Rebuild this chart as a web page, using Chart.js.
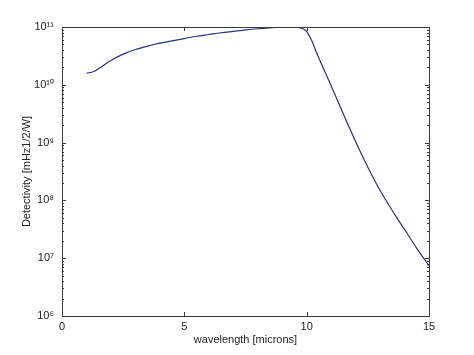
<!DOCTYPE html>
<html>
<head>
<meta charset="utf-8">
<script src="https://cdn.jsdelivr.net/npm/chart.js@4"></script>
<style>
html,body{margin:0;padding:0;background:#fff;}
#wrap{width:474px;height:355px;position:relative;}
</style>
</head>
<body>
<div id="wrap"><canvas id="c" width="474" height="355"></canvas></div>
<script>
// Data (wavelength in microns, log10 of detectivity)
const wavelength = [1.0, 1.3, 1.6, 2.0, 2.5, 3.0, 3.5, 4.0, 4.5, 5.0, 5.5, 6.0, 6.5, 7.0, 7.5, 8.0, 8.5, 9.0, 9.5, 9.7, 9.85, 10.0, 10.2, 10.41, 10.7, 10.95, 11.3, 11.63, 12.0, 12.4, 12.86, 13.27, 13.7, 14.09, 14.5, 14.9, 15.0];
const logDetectivity = [10.20, 10.23, 10.31, 10.42, 10.53, 10.61, 10.67, 10.72, 10.76, 10.80, 10.84, 10.87, 10.90, 10.925, 10.95, 10.97, 10.985, 10.997, 11.0, 10.99, 10.97, 10.92, 10.77, 10.55, 10.27, 10.03, 9.69, 9.37, 9.02, 8.66, 8.28, 7.98, 7.69, 7.44, 7.17, 6.93, 6.87];
const detectivity = logDetectivity.map(v => Math.pow(10, v));
const xTicks = [0, 5, 10, 15];
const yDecades = [6, 7, 8, 9, 10, 11];
const supDigits = {'0':'⁰','1':'¹','2':'²','3':'³','4':'⁴','5':'⁵','6':'⁶','7':'⁷','8':'⁸','9':'⁹'};

const points = wavelength.map((x, i) => ({x: x, y: detectivity[i]}));

const axisColor = '#3a3a3a';
const boxTicks = {
  id: 'boxTicks',
  afterDraw(chart) {
    const ctx = chart.ctx;
    const a = chart.chartArea;
    const xs = chart.scales.x, ys = chart.scales.y;
    ctx.save();
    ctx.strokeStyle = axisColor;
    ctx.lineWidth = 1;
    ctx.strokeRect(Math.round(a.left) + 0.5, Math.round(a.top) + 0.5, Math.round(a.right - a.left), Math.round(a.bottom - a.top));
    ctx.beginPath();
    xs.ticks.forEach(t => {
      const px = Math.round(xs.getPixelForValue(t.value)) + 0.5;
      ctx.moveTo(px, a.bottom); ctx.lineTo(px, a.bottom - 4);
      ctx.moveTo(px, a.top); ctx.lineTo(px, a.top + 4);
    });
    ys.ticks.forEach(t => {
      const py = Math.round(ys.getPixelForValue(t.value)) + 0.5;
      const major = Math.abs(Math.log10(t.value) - Math.round(Math.log10(t.value))) < 1e-9;
      const len = major ? 4 : 2;
      ctx.moveTo(a.left, py); ctx.lineTo(a.left + len, py);
      ctx.moveTo(a.right, py); ctx.lineTo(a.right - len, py);
    });
    ctx.stroke();
    ctx.restore();
  }
};

new Chart(document.getElementById('c'), {
  type: 'line',
  data: {
    datasets: [{
      data: points,
      borderColor: '#2b2f78',
      borderWidth: 1.2,
      pointRadius: 0,
      cubicInterpolationMode: 'monotone',
      fill: false
    }]
  },
  options: {
    responsive: false,
    animation: false,
    devicePixelRatio: 1,
    layout: {padding: {left: 0, top: 27, right: 45, bottom: 0}},
    plugins: {legend: {display: false}, tooltip: {enabled: false}},
    scales: {
      x: {
        type: 'linear',
        min: 0, max: 15,
        afterFit: s => { s.height = 39; },
        afterBuildTicks: s => { s.ticks = xTicks.map(v => ({value: v})); },
        grid: {display: false, drawTicks: false},
        border: {display: false},
        ticks: {color: '#222', font: {family: 'Liberation Sans', size: 11}, padding: 4, maxRotation: 0},
        title: {display: true, text: 'wavelength [microns]', color: '#222', font: {family: 'Liberation Sans', size: 11}, padding: {top: 0, bottom: 8}}
      },
      y: {
        type: 'logarithmic',
        min: 1e6, max: 1e11,
        afterFit: s => { s.width = 62; },
        afterBuildTicks: s => {
          const t = [];
          for (let d = yDecades[0]; d <= yDecades[yDecades.length - 1]; d++) {
            for (let m = 1; m <= 9; m++) {
              if (d === yDecades[yDecades.length - 1] && m > 1) break;
              t.push({value: m * Math.pow(10, d)});
            }
          }
          s.ticks = t;
        },
        grid: {display: false, drawTicks: false},
        border: {display: false},
        ticks: {
          autoSkip: false,
          color: '#222',
          font: {family: 'Liberation Sans', size: 11},
          padding: 8,
          callback: function(v) {
            const l = Math.log10(v);
            if (Math.abs(l - Math.round(l)) > 1e-9) return '';
            const e = String(Math.round(l));
            return '10' + e.split('').map(c => supDigits[c]).join('');
          }
        },
        title: {display: true, text: 'Detectivity [mHz1/2/W]', color: '#222', font: {family: 'Liberation Sans', size: 11}, padding: {top: 20, bottom: 0}}
      }
    }
  },
  plugins: [boxTicks]
});
</script>
</body>
</html>
